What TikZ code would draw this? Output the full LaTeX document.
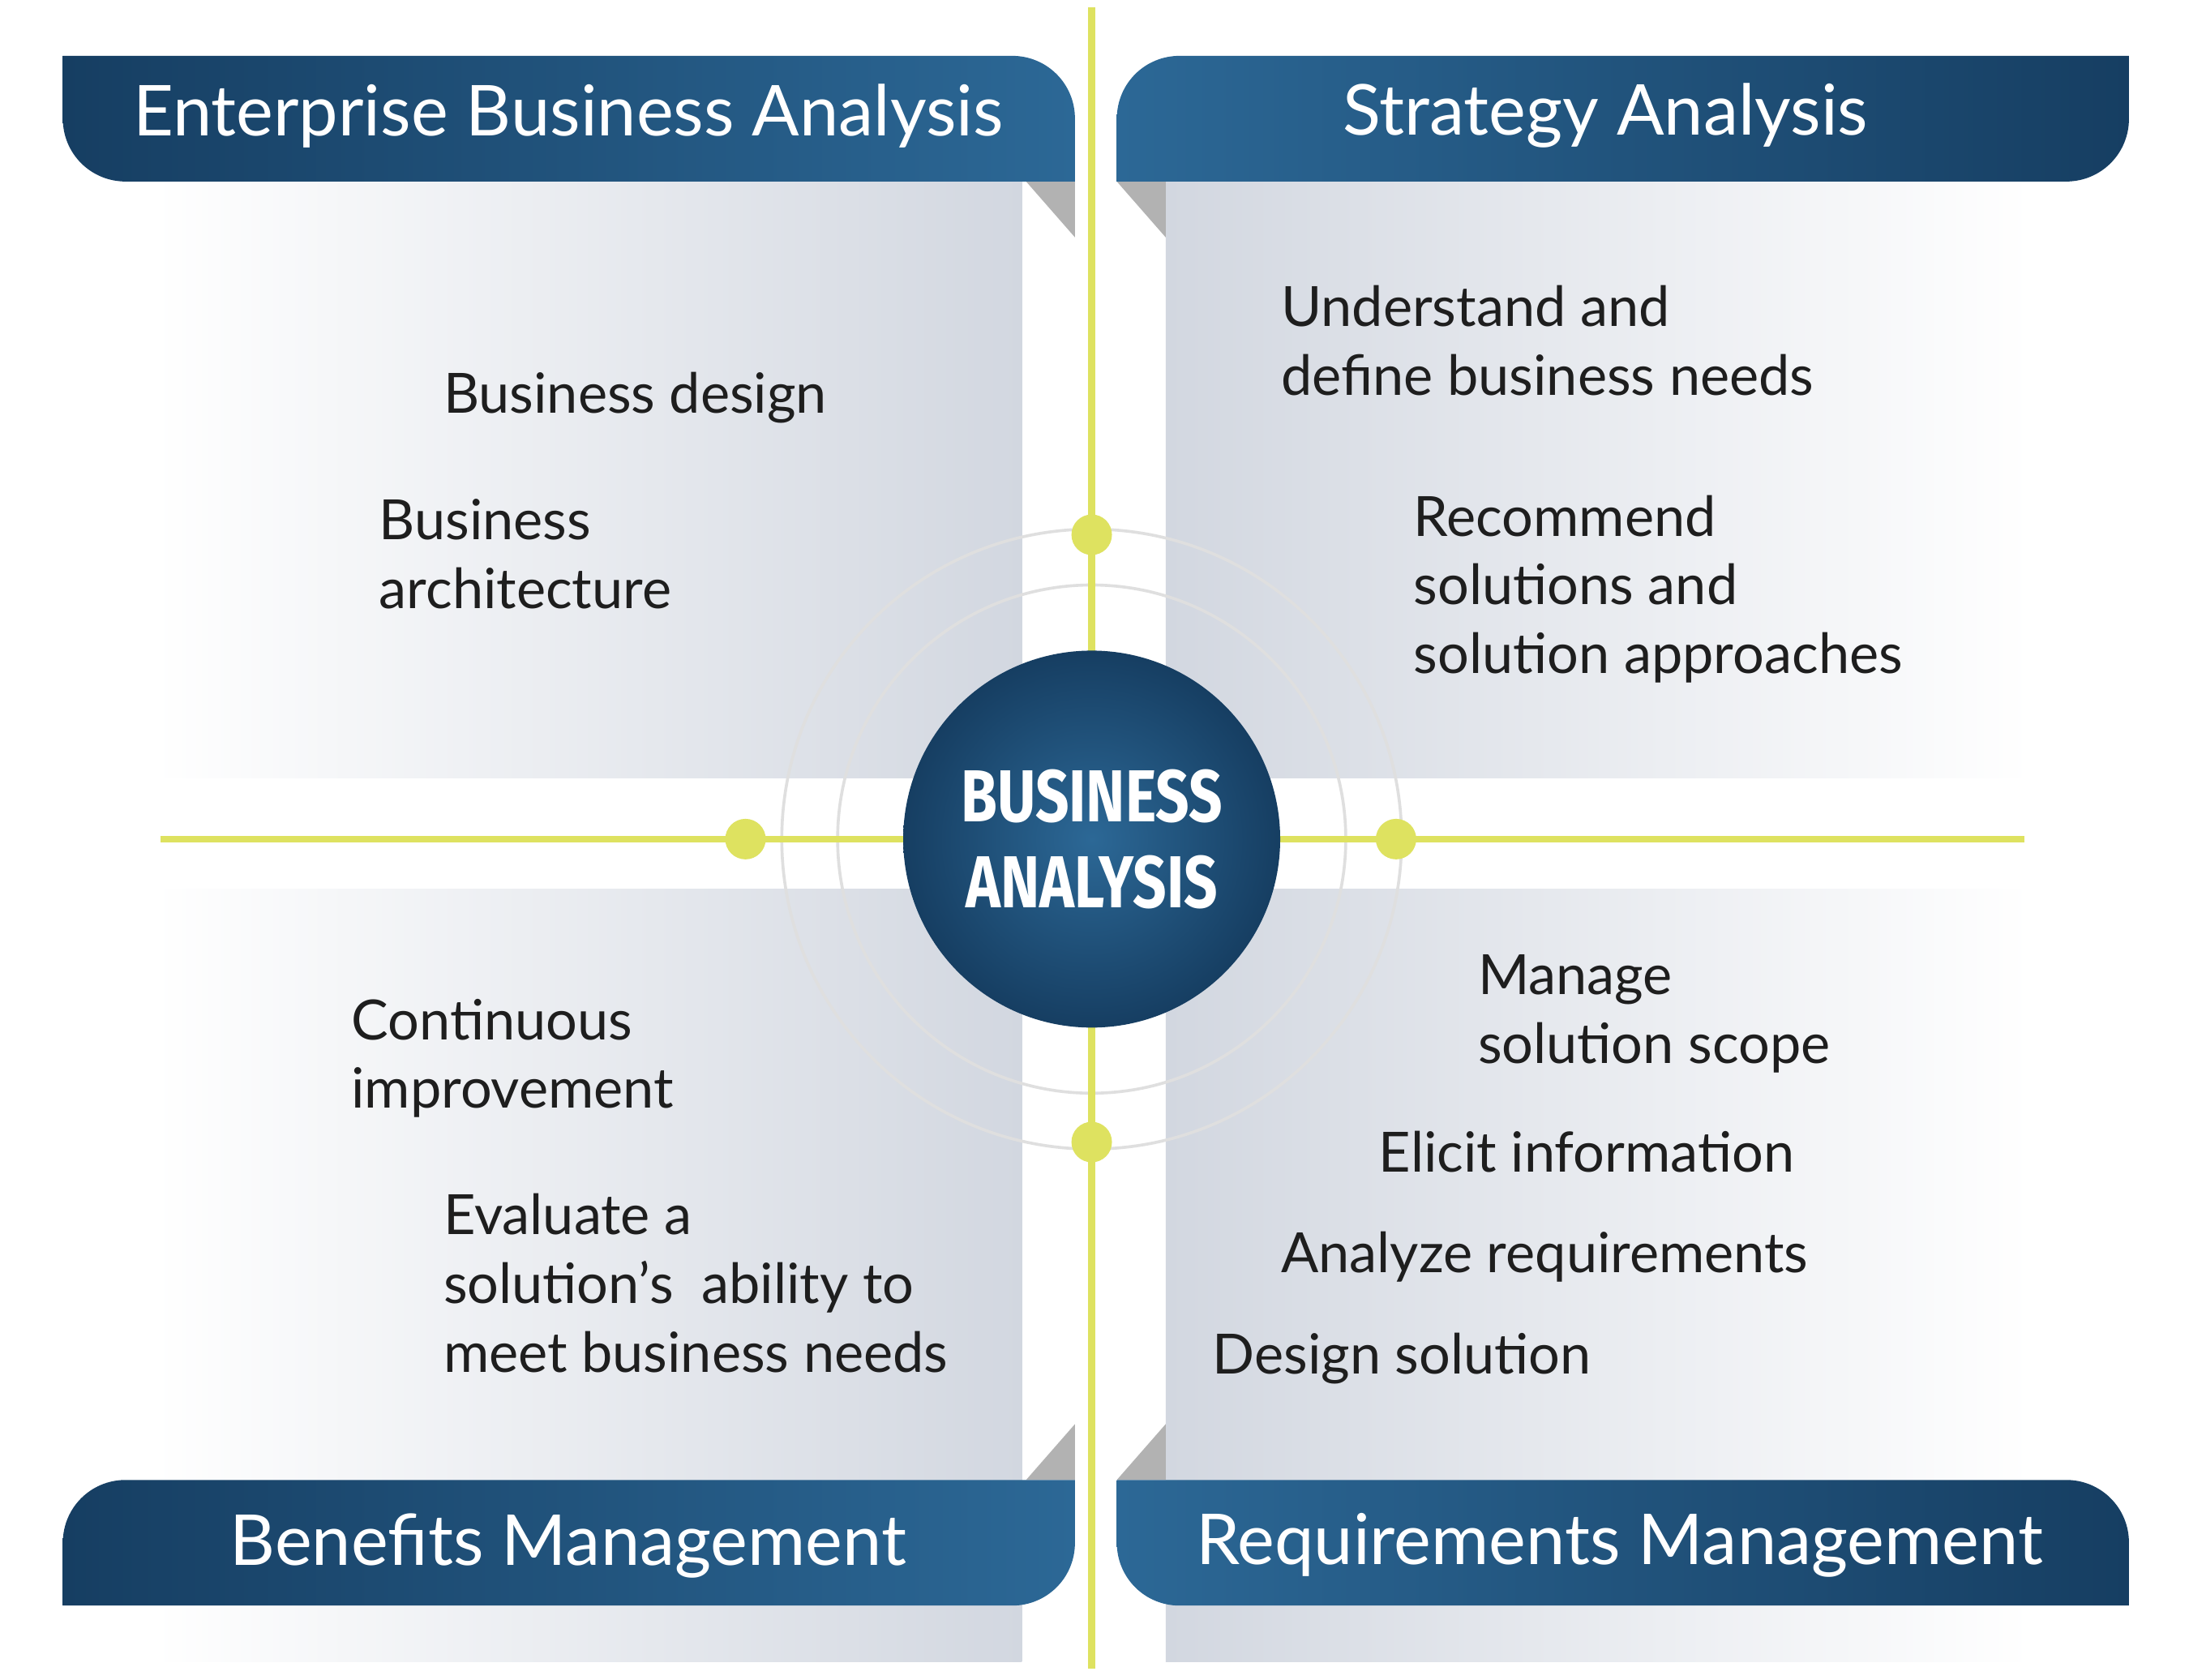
\documentclass[tikz,border=0pt]{standalone}
\usepackage{fontspec}
\setmainfont{Lato}
\newfontfamily\condfont{Fira Sans}
\definecolor{navyA}{RGB}{22,62,98}
\definecolor{navyB}{RGB}{44,104,150}
\definecolor{lineY}{RGB}{222,226,96}
\definecolor{panelG}{RGB}{210,215,224}
\definecolor{txt}{RGB}{30,30,30}
\tikzset{
  body/.style={anchor=west,align=left,font=\fontsize{11.3}{14}\selectfont,text=txt,inner sep=0pt},
  head/.style={font=\fontsize{14.3}{16}\selectfont,text=white,inner sep=0pt},
  ydot/.style={circle,fill=lineY,minimum size=0.29cm,inner sep=0pt},
  ring/.style={draw=gray!25,line width=0.6pt}
}
\begin{document}
\begin{tikzpicture}[x=0.01cm,y=-0.01cm]
\useasboundingbox (0,0) rectangle (1568,1203);
\fill[white] (0,0) rectangle (1568,1203);
% panels
\shade[left color=white,right color=panelG] (110,130) rectangle (732,557);
\shade[left color=panelG,right color=white] (835,130) rectangle (1455,557);
\shade[left color=white,right color=panelG] (110,637) rectangle (732,1190);
\shade[left color=panelG,right color=white] (835,637) rectangle (1455,1190);
% rings
\draw[ring] (782,601) circle (182);
\draw[ring] (782,601) circle (222);
% lines
\coordinate (vt) at (782,5); \coordinate (vb) at (782,1195);
\coordinate (hl) at (115,601); \coordinate (hr) at (1450,601);
\draw[lineY,line width=1.4pt] (vt) -- (vb);
\draw[lineY,line width=1.4pt] (hl) -- (hr);
\node[ydot] (d1) at (782,383) {};
\node[ydot] (d2) at (534,601) {};
\node[ydot] (d3) at (1000,601) {};
\node[ydot] (d4) at (782,818) {};
% center
\shade[inner color=navyB,outer color=navyA] (782,601) circle (135);
\node[text=white,align=center,font=\condfont\bfseries\fontsize{15}{17.6}\selectfont] (c) at (782,601) {\scalebox{0.8}[1]{BUSINESS}\\\scalebox{0.8}[1]{ANALYSIS}};
% triangles
\fill[gray!60] (735,130) -- (770,130) -- (770,170) -- cycle;
\fill[gray!60] (800,130) -- (835,130) -- (835,170) -- cycle;
\fill[gray!60] (735,1060) -- (770,1060) -- (770,1020) -- cycle;
\fill[gray!60] (800,1060) -- (835,1060) -- (835,1020) -- cycle;
% tabs
\shade[left color=navyA,right color=navyB]
  (45,40) -- (725,40) .. controls (750,40) and (770,60) .. (770,85) -- (770,130) -- (90,130) .. controls (65,130) and (45,110) .. (45,85) -- cycle;
\shade[left color=navyB,right color=navyA]
  (845,40) -- (1525,40) -- (1525,85) .. controls (1525,110) and (1505,130) .. (1480,130) -- (800,130) -- (800,85) .. controls (800,60) and (820,40) .. (845,40) -- cycle;
\shade[left color=navyA,right color=navyB]
  (90,1060) -- (770,1060) -- (770,1105) .. controls (770,1130) and (750,1150) .. (725,1150) -- (45,1150) -- (45,1105) .. controls (45,1080) and (65,1060) .. (90,1060) -- cycle;
\shade[left color=navyB,right color=navyA]
  (800,1060) -- (1480,1060) .. controls (1505,1060) and (1525,1080) .. (1525,1105) -- (1525,1150) -- (845,1150) .. controls (820,1150) and (800,1130) .. (800,1105) -- cycle;
\node[head] (h1) at (407,83) {Enterprise Business Analysis};
\node[head] (h2) at (1150,83) {Strategy Analysis};
\node[head] (h3) at (407,1107) {Benefits Management};
\node[head] (h4) at (1160,1107) {Requirements Management};
% texts
\node[body] (t1) at (317,285) {Business design};
\node[body] (t2) at (271,397) {Business\\architecture};
\node[body] (t3) at (917,244) {Understand and\\define business needs};
\node[body] (t4) at (1012,422) {Recommend\\solutions and\\solution approaches};
\node[body] (t5) at (251,758) {Continuous\\improvement};
\node[body] (t6) at (317,919) {Evaluate a\\solution’s\ \ ability to\\meet business needs};
\node[body] (t7) at (1058,726) {Manage\\solution scope};
\node[body] (t8) at (987,825) {Elicit information};
\node[body] (t9) at (917,900) {Analyze requirements};
\node[body] (t10) at (868,973) {Design solution};
\end{tikzpicture}
\end{document}
